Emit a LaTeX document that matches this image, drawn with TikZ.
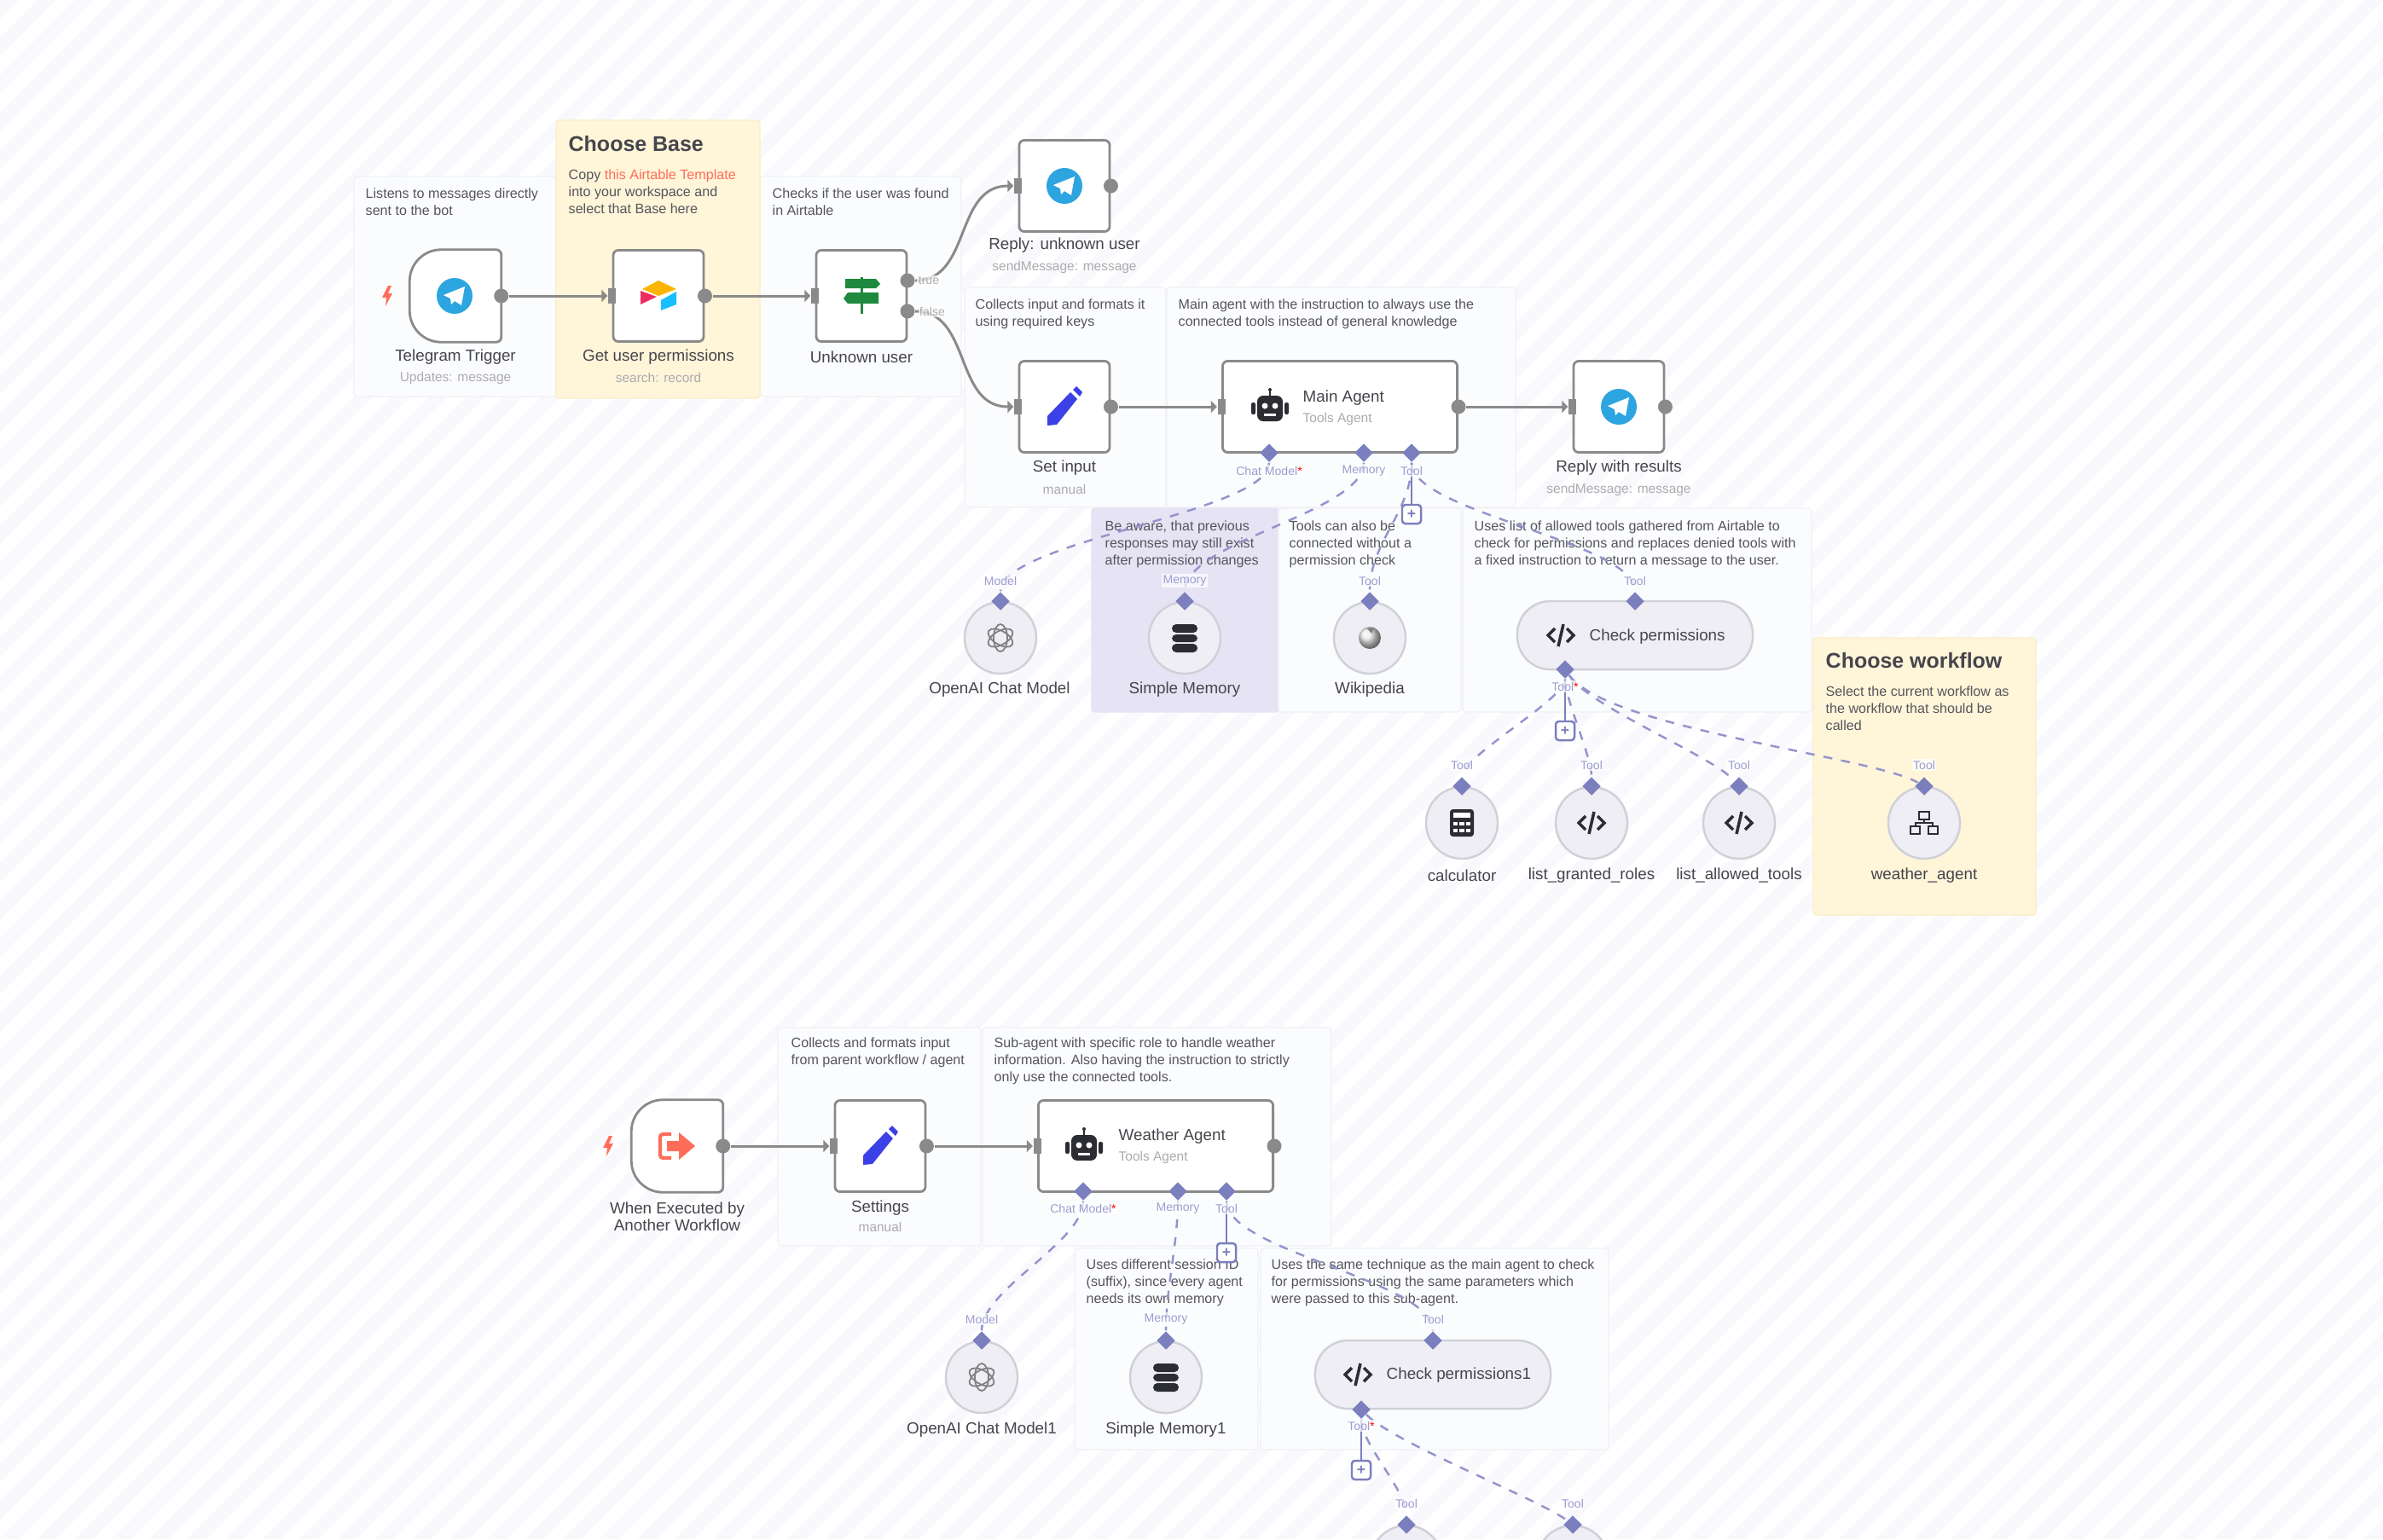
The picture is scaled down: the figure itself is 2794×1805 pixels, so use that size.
\documentclass[tikz,border=0pt]{standalone}
\usepackage{fontspec}
\setmainfont{Liberation Sans}
\usetikzlibrary{arrows.meta,shapes.geometric}

\definecolor{stripe}{HTML}{F9F9FD}
\definecolor{notefill}{HTML}{FBFCFE}
\definecolor{noteline}{HTML}{F1F1F6}
\definecolor{yellowfill}{HTML}{FFF5D9}
\definecolor{yellowline}{HTML}{FCEDC6}
\definecolor{purplefill}{HTML}{E6E3F4}
\definecolor{boxline}{HTML}{8A8A8A}
\definecolor{subfill}{HTML}{EEEEF4}
\definecolor{subline}{HTML}{D0D0D8}
\definecolor{portcol}{HTML}{7B7FBE}
\definecolor{dashcol}{HTML}{9494CC}
\definecolor{portlabel}{HTML}{9C9CD2}
\definecolor{darktext}{HTML}{45454C}
\definecolor{notetext}{HTML}{55555C}
\definecolor{subtext}{HTML}{ABABB0}
\definecolor{n8nred}{HTML}{FF6D5A}
\definecolor{icondark}{HTML}{2C2C33}
\definecolor{tgblue}{HTML}{2CA5E0}
\definecolor{atyellow}{HTML}{FCB400}
\definecolor{atred}{HTML}{F02B60}
\definecolor{atblue}{HTML}{18BFFF}
\definecolor{signgreen}{HTML}{1F8A3E}
\definecolor{penblue}{HTML}{3B41E6}

\tikzset{
    sticky/.style={fill=notefill, draw=noteline, line width=.4pt, rounded corners=1pt},
    stickyyellow/.style={fill=yellowfill, draw=yellowline, line width=.4pt, rounded corners=1pt},
    stickypurple/.style={fill=purplefill, draw=purplefill, rounded corners=1pt},
    notetxt/.style={anchor=north west, inner sep=0pt, align=left, text=notetext, font=\fontsize{4.58}{5.7}\selectfont},
    notetitle/.style={anchor=west, inner sep=0pt, text=darktext, font=\bfseries\fontsize{7.1}{8}\selectfont},
    mainbox/.style={draw=boxline, fill=white, line width=.8pt, rounded corners=1.7pt, minimum width=1.06cm, minimum height=1.07cm, inner sep=0pt},
    agentbox/.style={mainbox, minimum width=2.75cm},
    ghostbox/.style={minimum width=1.06cm, minimum height=1.07cm, inner sep=0pt},
    subcircle/.style={circle, draw=subline, fill=subfill, line width=.7pt, minimum size=.84cm, inner sep=0pt},
    subpill/.style={draw=subline, fill=subfill, line width=.7pt, rounded corners=11pt, minimum width=2.76cm, minimum height=.8cm, inner sep=0pt},
    inport/.style={fill=boxline, rectangle, minimum width=.09cm, minimum height=.18cm, inner sep=0pt},
    outport/.style={fill=boxline, circle, minimum size=.17cm, inner sep=0pt},
    portdiamond/.style={diamond, fill=portcol, minimum size=.22cm, inner sep=0pt},
    plusbox/.style={draw=portcol, fill=white, line width=.7pt, rounded corners=1pt, minimum size=.22cm, inner sep=0pt, text=portcol, font=\bfseries\fontsize{5}{5}\selectfont},
    flow/.style={draw=boxline, line width=.85pt, -{Triangle[length=2pt,width=4pt]}},
    flowcurve/.style={flow},
    dashflow/.style={draw=dashcol, line width=.7pt, dash pattern=on 3pt off 3pt},
    stem/.style={draw=portcol, line width=.7pt},
    nodelabel/.style={inner sep=0pt, text=darktext, font=\fontsize{5.35}{5.7}\selectfont, align=center},
    nodesub/.style={inner sep=0pt, text=subtext, font=\fontsize{4.4}{5}\selectfont},
    portlbl/.style={inner sep=.4pt, fill=white, fill opacity=.7, text opacity=1, text=portlabel, font=\fontsize{4}{5}\selectfont},
    branchlbl/.style={inner sep=.4pt, fill=white, fill opacity=.7, text opacity=1, text=subtext, font=\fontsize{4}{5}\selectfont},
    pics/bolt/.style={code={
        \fill[n8nred] (1,-12) -- (-6,2) -- (-1,2) -- (-2,12) -- (6,-3) -- (1,-3) -- (5,-12) -- cycle;
    }},
    pics/tgicon/.style={code={
        \fill[tgblue] (0,0) circle (21);
        \fill[white] (-13,-1) -- (12,-11) -- (8,11) -- (0,6) -- (-4,10) -- (-5,3) -- cycle;
    }},
    pics/airtableicon/.style={code={
        \fill[atyellow] (0,-18) -- (21,-8) -- (0,0) -- (-19,-8) -- cycle;
        \fill[atred] (-21,-6) -- (-2,1) -- (-21,10) -- cycle;
        \fill[atblue] (3,5) -- (21,-5) -- (21,10) -- (3,17) -- cycle;
    }},
    pics/signicon/.style={code={
        \fill[signgreen] (-1.5,-22) rectangle (1.5,21);
        \fill[signgreen] (-19,-20) -- (17,-20) -- (22,-14) -- (17,-9) -- (-19,-9) -- cycle;
        \fill[signgreen] (-21,3) -- (-16,-4) -- (20,-4) -- (20,9) -- (-16,9) -- cycle;
    }},
    pics/penicon/.style={code={
        \fill[penblue] (-20,22) -- (-20,11) -- (7,-17) -- (15,-9) -- (-9,21) -- cycle;
        \fill[penblue] (10,-20) -- (14,-24) -- (21,-17) -- (18,-12) -- cycle;
    }},
    pics/roboticon/.style={code={
        \fill[icondark] (-1,-19) rectangle (1,-12);
        \fill[icondark] (0,-20) circle (2);
        \fill[icondark, rounded corners=2pt] (-15,-13) rectangle (15,17);
        \fill[icondark, rounded corners=.6pt] (-22,-5) rectangle (-17,9);
        \fill[icondark, rounded corners=.6pt] (17,-5) rectangle (22,9);
        \fill[white] (-6,-1) circle (3.5);
        \fill[white] (6,-1) circle (3.5);
        \fill[white] (-7,8) rectangle (7,10.5);
    }},
    pics/openaiicon/.style={code={
        \draw[black!50, line width=.5pt, rotate=0] (0,0) ellipse [x radius=8, y radius=16];
        \draw[black!50, line width=.5pt, rotate=60] (0,0) ellipse [x radius=8, y radius=16];
        \draw[black!50, line width=.5pt, rotate=120] (0,0) ellipse [x radius=8, y radius=16];
    }},
    pics/dbicon/.style={code={
        \fill[icondark, rounded corners=1.4pt] (-15,-16) rectangle (15,-6);
        \fill[icondark, rounded corners=1.4pt] (-15,-4) rectangle (15,5);
        \fill[icondark, rounded corners=1.4pt] (-15,7) rectangle (15,17);
    }},
    pics/wikiicon/.style={code={
        \shade[ball color=black!8] (0,0) circle (13);
        \fill[black!50] (-3,-11) -- (5,-12) -- (2,-5) -- cycle;
    }},
    pics/codeicon/.style={code={
        \draw[icondark, line width=1pt] (-7,-8) -- (-15,0) -- (-7,8);
        \draw[icondark, line width=1pt] (7,-8) -- (15,0) -- (7,8);
        \draw[icondark, line width=1pt] (3,-13) -- (-3,13);
    }},
    pics/calcicon/.style={code={
        \fill[icondark, rounded corners=1pt] (-14,-16) rectangle (14,16);
        \fill[white] (-10,-12) rectangle (10,-6);
        \fill[white] (-10,-1) rectangle (-5,3);
        \fill[white] (-3,-1) rectangle (3,3);
        \fill[white] (5,-1) rectangle (10,3);
        \fill[white] (-10,7) rectangle (-5,11);
        \fill[white] (-3,7) rectangle (3,11);
        \fill[white] (5,7) rectangle (10,11);
    }},
    pics/neticon/.style={code={
        \draw[icondark, line width=.8pt] (-6,-13) rectangle (6,-4);
        \draw[icondark, line width=.8pt] (-16,4) rectangle (-5,13);
        \draw[icondark, line width=.8pt] (5,4) rectangle (16,13);
        \draw[icondark, line width=.8pt] (0,-4) -- (0,0);
        \draw[icondark, line width=.8pt] (-10,4) -- (-10,0) -- (10,0) -- (10,4);
    }},
    pics/subflowicon/.style={code={
        \draw[n8nred, line width=1.2pt, rounded corners=1pt] (-6,-14) -- (-19,-14) -- (-19,14) -- (-6,14);
        \fill[n8nred] (-11,-6) -- (3,-6) -- (3,-16) -- (22,0) -- (3,16) -- (3,6) -- (-11,6) -- cycle;
    }},
}

\begin{document}
\begin{tikzpicture}[x=0.01cm, y=-0.01cm]
    \useasboundingbox (0,0) rectangle (2794,1805);
    \clip (0,0) rectangle (2794,1805);

    \fill[white] (0,0) rectangle (2794,1805);
    \foreach \i in {0,44,...,4620} {
        \fill[stripe] (\i,0) -- (\i+22,0) -- (\i+22-1805,1805) -- (\i-1805,1805) -- cycle;
    }

    \path[sticky] (415,207) rectangle (652,465);
    \path[sticky] (891,207) rectangle (1127,465);
    \path[stickyyellow] (652,141) rectangle (891,467);
    \path[sticky] (1131,337) rectangle (1367,595);
    \path[sticky] (1368,337) rectangle (1777,595);
    \path[stickypurple] (1280,596) rectangle (1499,835);
    \path[sticky] (1499,596) rectangle (1713,835);
    \path[sticky] (1715,596) rectangle (2124,835);
    \path[stickyyellow] (2126,748) rectangle (2387,1073);
    \path[sticky] (912,1205) rectangle (1150,1461);
    \path[sticky] (1152,1205) rectangle (1561,1461);
    \path[sticky] (1260,1464) rectangle (1475,1700);
    \path[sticky] (1478,1464) rectangle (1886,1700);

    \node[notetxt] (listensnote) at (428,220) {Listens to messages directly\\sent to the bot};
    \node[notetitle] (basetitle) at (666,169) {Choose Base};
    \node[notetxt] (basenote) at (666,198) {Copy \textcolor{n8nred}{this Airtable Template}\\into your workspace and\\select that Base here};
    \node[notetxt] (checksnote) at (905,220) {Checks if the user was found\\in Airtable};
    \node[notetxt] (collectsnote) at (1143,350) {Collects input and formats it\\using required keys};
    \node[notetxt] (mainnote) at (1381,350) {Main agent with the instruction to always use the\\connected tools instead of general knowledge};
    \node[notetxt] (awarenote) at (1295,610) {Be aware, that previous\\responses may still exist\\after permission changes};
    \node[notetxt] (toolsnote) at (1511,610) {Tools can also be\\connected without a\\permission check};
    \node[notetxt] (usesnote) at (1728,610) {Uses list of allowed tools gathered from Airtable to\\check for permissions and replaces denied tools with\\a fixed instruction to return a message to the user.};
    \node[notetitle] (workflowtitle) at (2140,775) {Choose workflow};
    \node[notetxt] (workflownote) at (2140,804) {Select the current workflow as\\the workflow that should be\\called};
    \node[notetxt] (formatsnote) at (927,1216) {Collects and formats input\\from parent workflow / agent};
    \node[notetxt] (subagentnote) at (1165,1216) {Sub-agent with specific role to handle weather\\information. Also having the instruction to strictly\\only use the connected tools.};
    \node[notetxt] (sessionnote) at (1273,1476) {Uses different session ID\\(suffix), since every agent\\needs its own memory};
    \node[notetxt] (samenote) at (1490,1476) {Uses the same technique as the main agent to check\\for permissions using the same parameters which\\were passed to this sub-agent.};

    \node[ghostbox] (tgtrigger) at (534,347) {};
    \draw[draw=boxline, fill=white, line width=.8pt, rounded corners=10.5pt] (tgtrigger.north) -- (tgtrigger.north west) -- (tgtrigger.south west) [rounded corners=1.7pt] -- (tgtrigger.south east) -- (tgtrigger.north east) -- cycle;
    \node[mainbox] (getperms) at (772,347) {};
    \node[mainbox] (unknown) at (1010,347) {};
    \node[mainbox] (replyunknown) at (1248,218) {};
    \node[mainbox] (setinput) at (1248,477) {};
    \node[agentbox] (mainagent) at (1571,477) {};
    \node[mainbox] (replyresults) at (1898,477) {};
    \node[ghostbox] (execwf) at (794,1344) {};
    \draw[draw=boxline, fill=white, line width=.8pt, rounded corners=10.5pt] (execwf.north) -- (execwf.north west) -- (execwf.south west) [rounded corners=1.7pt] -- (execwf.south east) -- (execwf.north east) -- cycle;
    \node[mainbox] (settings) at (1032,1344) {};
    \node[agentbox] (weatheragent) at (1355,1344) {};

    \node[subcircle] (openai) at (1173,748) {};
    \node[subcircle] (memory) at (1389,748) {};
    \node[subcircle] (wikipedia) at (1606,748) {};
    \node[subpill] (checkperms) at (1917,745) {};
    \node[subcircle] (calculator) at (1714,965) {};
    \node[subcircle] (granted) at (1866,965) {};
    \node[subcircle] (allowed) at (2039,965) {};
    \node[subcircle] (weathertool) at (2256,965) {};
    \node[subcircle] (openaione) at (1151,1615) {};
    \node[subcircle] (memoryone) at (1367,1615) {};
    \node[subpill] (checkpermsone) at (1680,1612) {};
    \node[subcircle] (toolleft) at (1649,1831) {};
    \node[subcircle] (toolright) at (1844,1831) {};

    \node[outport] (tgout) at (tgtrigger.east) {};
    \node[inport] (getpermsin) at (getperms.west) {};
    \node[outport] (getpermsout) at (getperms.east) {};
    \node[inport] (unknownin) at (unknown.west) {};
    \node[outport] (trueout) at (1064,329) {};
    \node[outport] (falseout) at (1064,365) {};
    \node[inport] (replyunknownin) at (replyunknown.west) {};
    \node[outport] (replyunknownout) at (replyunknown.east) {};
    \node[inport] (setinputin) at (setinput.west) {};
    \node[outport] (setinputout) at (setinput.east) {};
    \node[inport] (mainin) at (mainagent.west) {};
    \node[outport] (mainout) at (mainagent.east) {};
    \node[inport] (resultsin) at (replyresults.west) {};
    \node[outport] (resultsout) at (replyresults.east) {};
    \node[outport] (execout) at (execwf.east) {};
    \node[inport] (settingsin) at (settings.west) {};
    \node[outport] (settingsout) at (settings.east) {};
    \node[inport] (weatherin) at (weatheragent.west) {};
    \node[outport] (weatherout) at (weatheragent.east) {};

    \node[portdiamond] (mainchat) at (1488,531) {};
    \node[portdiamond] (mainmemory) at (1599,531) {};
    \node[portdiamond] (maintool) at (1655,531) {};
    \node[portdiamond] (openaitop) at (1173,705) {};
    \node[portdiamond] (memorytop) at (1389,705) {};
    \node[portdiamond] (wikitop) at (1606,705) {};
    \node[portdiamond] (checktop) at (1917,705) {};
    \node[portdiamond] (checkbottom) at (1835,785) {};
    \node[portdiamond] (calctop) at (1714,922) {};
    \node[portdiamond] (grantedtop) at (1866,922) {};
    \node[portdiamond] (allowedtop) at (2039,922) {};
    \node[portdiamond] (weathertooltop) at (2256,922) {};
    \node[portdiamond] (weatherchat) at (1270,1397) {};
    \node[portdiamond] (weathermemory) at (1381,1397) {};
    \node[portdiamond] (weathertoolport) at (1438,1397) {};
    \node[portdiamond] (openaionetop) at (1151,1572) {};
    \node[portdiamond] (memoryonetop) at (1367,1572) {};
    \node[portdiamond] (checkonetop) at (1680,1572) {};
    \node[portdiamond] (checkonebottom) at (1596,1653) {};
    \node[portdiamond] (toollefttop) at (1649,1788) {};
    \node[portdiamond] (toolrighttop) at (1844,1788) {};

    \draw[flow] (tgout) -- (getpermsin);
    \draw[flow] (getpermsout) -- (unknownin);
    \draw[flowcurve] (trueout) .. controls +(75,0) and +(-75,0) .. (replyunknownin);
    \draw[flowcurve] (falseout) .. controls +(75,0) and +(-75,0) .. (setinputin);
    \draw[flow] (setinputout) -- (mainin);
    \draw[flow] (mainout) -- (resultsin);
    \draw[flow] (execout) -- (settingsin);
    \draw[flow] (settingsout) -- (weatherin);

    \draw[dashflow] (mainchat) .. controls +(0,70) and +(0,-70) .. (openaitop);
    \draw[dashflow] (mainmemory) .. controls +(0,70) and +(0,-70) .. (memorytop);
    \draw[dashflow] (maintool) .. controls +(0,70) and +(0,-70) .. (wikitop);
    \draw[dashflow] (maintool) .. controls +(0,70) and +(0,-70) .. (checktop);
    \draw[dashflow] (checkbottom) .. controls +(0,35) and +(0,-35) .. (calctop);
    \draw[dashflow] (checkbottom) .. controls +(0,35) and +(0,-35) .. (grantedtop);
    \draw[dashflow] (checkbottom) .. controls +(30,45) and +(-30,-35) .. (allowedtop);
    \draw[dashflow] (checkbottom) .. controls +(50,70) and +(-60,-35) .. (weathertooltop);
    \draw[dashflow] (weatherchat) .. controls +(0,60) and +(0,-60) .. (openaionetop);
    \draw[dashflow] (weathermemory) .. controls +(0,60) and +(0,-60) .. (memoryonetop);
    \draw[dashflow] (weathertoolport) .. controls +(0,70) and +(0,-70) .. (checkonetop);
    \draw[dashflow] (checkonebottom) .. controls +(0,40) and +(0,-40) .. (toollefttop);
    \draw[dashflow] (checkonebottom) .. controls +(40,40) and +(-40,-30) .. (toolrighttop);

    \node[plusbox] (mainplus) at (1655,603) {+};
    \node[plusbox] (checkplus) at (1835,857) {+};
    \node[plusbox] (weatherplus) at (1438,1469) {+};
    \node[plusbox] (checkoneplus) at (1596,1724) {+};
    \draw[stem] (maintool) -- (mainplus);
    \draw[stem] (checkbottom) -- (checkplus);
    \draw[stem] (weathertoolport) -- (weatherplus);
    \draw[stem] (checkonebottom) -- (checkoneplus);

    \pic at (454,347) {bolt};
    \pic at (713,1344) {bolt};
    \pic at (533,347) {tgicon};
    \pic at (772,347) {airtableicon};
    \pic at (1010,347) {signicon};
    \pic at (1248,218) {tgicon};
    \pic at (1248,477) {penicon};
    \pic at (1489,477) {roboticon};
    \pic at (1898,477) {tgicon};
    \pic at (1173,748) {openaiicon};
    \pic at (1389,748) {dbicon};
    \pic at (1606,748) {wikiicon};
    \pic at (1830,745) {codeicon};
    \pic at (1714,965) {calcicon};
    \pic at (1866,965) {codeicon};
    \pic at (2039,965) {codeicon};
    \pic at (2256,965) {neticon};
    \pic at (793,1344) {subflowicon};
    \pic at (1032,1344) {penicon};
    \pic at (1271,1344) {roboticon};
    \pic at (1151,1615) {openaiicon};
    \pic at (1367,1615) {dbicon};
    \pic at (1592,1612) {codeicon};

    \node[branchlbl] (truelbl) at (1089,329) {true};
    \node[branchlbl] (falselbl) at (1093,365) {false};

    \node[portlbl] (chatlbl) at (1488,552) {Chat Model\textcolor{red}{*}};
    \node[portlbl] (memlbl) at (1599,552) {Memory};
    \node[portlbl] (toollbl) at (1655,552) {Tool};
    \node[portlbl] (modellbl) at (1173,681) {Model};
    \node[portlbl] (memorylbl) at (1389,681) {Memory};
    \node[portlbl] (wikilbl) at (1606,681) {Tool};
    \node[portlbl] (checklbl) at (1917,681) {Tool};
    \node[portlbl] (checkbottomlbl) at (1835,805) {Tool\textcolor{red}{*}};
    \node[portlbl] (calclbl) at (1714,897) {Tool};
    \node[portlbl] (grantedlbl) at (1866,897) {Tool};
    \node[portlbl] (allowedlbl) at (2039,897) {Tool};
    \node[portlbl] (weathertoollbl) at (2256,897) {Tool};
    \node[portlbl] (wchatlbl) at (1270,1417) {Chat Model\textcolor{red}{*}};
    \node[portlbl] (wmemlbl) at (1381,1417) {Memory};
    \node[portlbl] (wtoollbl) at (1438,1417) {Tool};
    \node[portlbl] (modelonelbl) at (1151,1547) {Model};
    \node[portlbl] (memoryonelbl) at (1367,1547) {Memory};
    \node[portlbl] (checkonelbl) at (1680,1547) {Tool};
    \node[portlbl] (checkonebottomlbl) at (1596,1672) {Tool\textcolor{red}{*}};
    \node[portlbl] (toolleftlbl) at (1649,1763) {Tool};
    \node[portlbl] (toolrightlbl) at (1844,1763) {Tool};

    \node[nodelabel] (tgname) at (534,419) {Telegram Trigger};
    \node[nodesub] (tgsub) at (534,443) {Updates: message};
    \node[nodelabel] (getname) at (772,419) {Get user permissions};
    \node[nodesub] (getsub) at (772,443) {search: record};
    \node[nodelabel] (unknownname) at (1010,419) {Unknown user};
    \node[nodelabel] (replyname) at (1248,288) {Reply: unknown user};
    \node[nodesub] (replysub) at (1248,313) {sendMessage: message};
    \node[nodelabel] (setname) at (1248,549) {Set input};
    \node[nodesub] (setsub) at (1248,574) {manual};
    \node[nodelabel, anchor=west] (mainname) at (1527,467) {Main Agent};
    \node[nodesub, anchor=west] (mainsub) at (1527,491) {Tools Agent};
    \node[nodelabel] (resultsname) at (1898,549) {Reply with results};
    \node[nodesub] (resultssub) at (1898,574) {sendMessage: message};
    \node[nodelabel] (openainame) at (1172,809) {OpenAI Chat Model};
    \node[nodelabel] (memoryname) at (1389,809) {Simple Memory};
    \node[nodelabel] (wikiname) at (1606,809) {Wikipedia};
    \node[nodelabel, anchor=west] (checkname) at (1863,747) {Check permissions};
    \node[nodelabel] (calcname) at (1714,1027) {calculator};
    \node[nodelabel] (grantedname) at (1866,1027) {list\_granted\_roles};
    \node[nodelabel] (allowedname) at (2039,1027) {list\_allowed\_tools};
    \node[nodelabel] (weathertoolname) at (2256,1027) {weather\_agent};
    \node[nodelabel] (execname) at (794,1427) {When Executed by\\Another Workflow};
    \node[nodelabel] (settingsname) at (1032,1417) {Settings};
    \node[nodesub] (settingssub) at (1032,1439) {manual};
    \node[nodelabel, anchor=west] (weathername) at (1311,1333) {Weather Agent};
    \node[nodesub, anchor=west] (weathersub) at (1311,1357) {Tools Agent};
    \node[nodelabel] (openaionename) at (1151,1677) {OpenAI Chat Model1};
    \node[nodelabel] (memoryonename) at (1367,1677) {Simple Memory1};
    \node[nodelabel, anchor=west] (checkonename) at (1625,1613) {Check permissions1};
\end{tikzpicture}
\end{document}
